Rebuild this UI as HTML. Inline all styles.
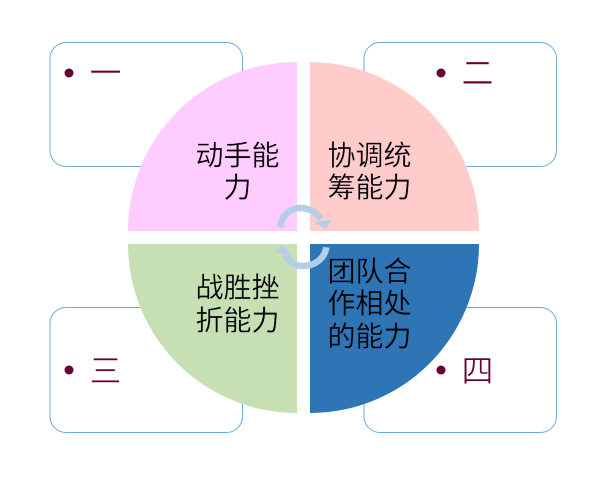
<!DOCTYPE html>
<html><head><meta charset="utf-8"><style>
html,body{margin:0;padding:0;background:#fff;width:604px;height:478px;overflow:hidden}
svg{display:block}
text{font-family:"Liberation Sans","Noto Sans CJK SC",sans-serif}
.m{font-size:28px;fill:#000;stroke-width:.25px}
.b{font-size:32px;fill:#660033;stroke:#fff;stroke-width:.5px}
</style></head><body>
<svg width="604" height="478" viewBox="0 0 604 478" xmlns="http://www.w3.org/2000/svg">
<g fill="#fff" stroke="#6fa8dc" stroke-width="1">
<rect x="50" y="42.500" width="192.500" height="124" rx="16"/>
<rect x="364" y="42.500" width="192.500" height="124" rx="16"/>
<rect x="50" y="307.500" width="192.500" height="125" rx="16"/>
<rect x="364" y="307.500" width="192.500" height="125" rx="16"/>
</g>
<g fill="#660033">
<circle cx="69" cy="73" r="4.500"/>
<circle cx="441" cy="73" r="4.500"/>
<circle cx="69" cy="370" r="4.500"/>
<circle cx="441" cy="370" r="4.500"/>
</g>
<text class="b" x="89.500" y="84">一</text>
<text class="b" x="461.500" y="84">二</text>
<text class="b" x="89.500" y="382">三</text>
<text class="b" x="461.500" y="382">四</text>
<path d="M297 231H128A169 169 0 0 1 297 62Z" fill="#ffccff"/>
<path d="M310 231V62A169 169 0 0 1 479 231Z" fill="#ffcccc"/>
<path d="M297 244V413A169 169 0 0 1 128 244Z" fill="#c6e0b4"/>
<path d="M310 244H479A169 169 0 0 1 310 413Z" fill="#2e75b6"/>
<g fill="none" stroke="#b4cde8" stroke-width="6.500">
<path d="M280.300 227.300C281 216 290 208 300 208C309 208 316 212 321 219"/>
<path d="M326.300 247.300C325 258 315 266 303 266C295 266 289 262 285 254"/>
</g>
<g fill="#b4cde8">
<path d="M331 220L326 229L314 222Z"/>
<path d="M283 245L275.500 252L291 255Z"/>
</g>
<g>
<text class="m" style="stroke:#ffccff" x="195.500" y="165">动手能</text>
<text class="m" style="stroke:#ffccff" x="223.500" y="197">力</text>
<text class="m" style="stroke:#ffcccc" x="327.500" y="165">协调统</text>
<text class="m" style="stroke:#ffcccc" x="327.500" y="197">筹能力</text>
<text class="m" style="stroke:#c6e0b4" x="195.500" y="297">战胜挫</text>
<text class="m" style="stroke:#c6e0b4" x="195.500" y="330">折能力</text>
<text class="m" style="stroke:#2e75b6" x="327.500" y="281">团队合</text>
<text class="m" style="stroke:#2e75b6" x="327.500" y="313">作相处</text>
<text class="m" style="stroke:#2e75b6" x="327.500" y="346">的能力</text>
</g>
</svg>
</body></html>
